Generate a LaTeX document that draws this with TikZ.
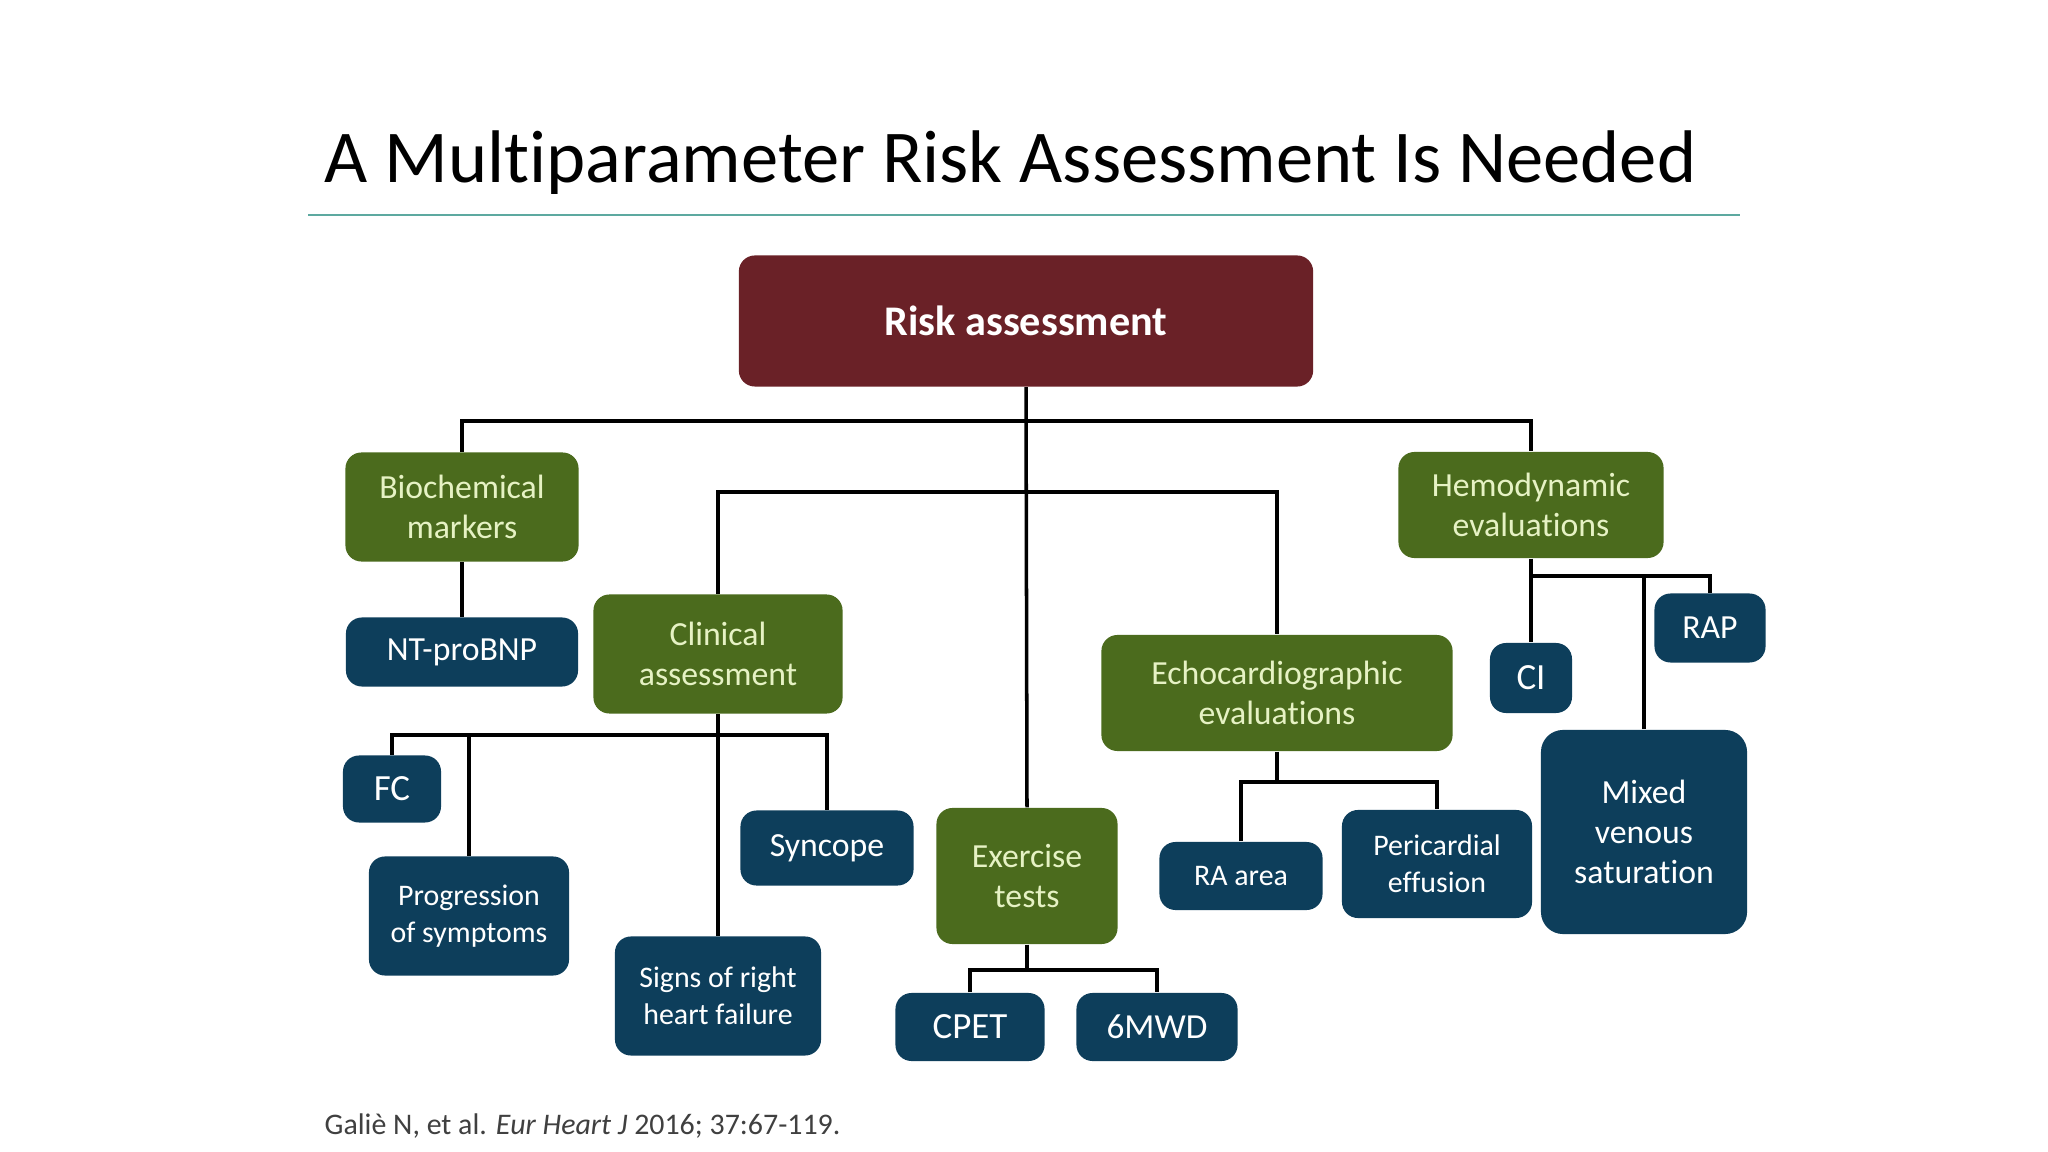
\documentclass[tikz,border=0pt]{standalone}
\usepackage{fontspec}
\setmainfont[Ligatures=NoCommon]{Carlito}
\definecolor{riskred}{HTML}{6A2127}
\definecolor{groupgreen}{HTML}{4B6B1D}
\definecolor{itemblue}{HTML}{0D3E5B}
\definecolor{ruleteal}{HTML}{5DA9A0}
\definecolor{greentext}{HTML}{E6F2C4}
\begin{document}
\begin{tikzpicture}[x=0.01cm,y=-0.01cm,
    box/.style={rounded corners=0.16cm,inner sep=0pt,align=center,
      font=\fontsize{9.6}{11.4}\selectfont},
    smalltext/.style={font=\fontsize{8.5}{10.5}\selectfont},
    bigtext/.style={font=\fontsize{10.5}{12}\selectfont},
    group/.style={box,fill=groupgreen,text=greentext},
    item/.style={box,fill=itemblue,text=white},
    link/.style={line width=1pt,black}]
 \useasboundingbox[fill=white] (0,0) rectangle (2048,1152);
 % title and rule
 \node[anchor=base west,inner sep=0pt,font=\fontsize{21.2}{24}\selectfont] (title) at (324,183) {A Multiparameter Risk Assessment Is Needed};
 \draw[ruleteal,line width=0.8pt] (308,215) -- (1740,215);
 % top node
 \node[box,fill=riskred,text=white,minimum width=5.74cm,minimum height=1.31cm,
   font=\fontsize{12}{14}\bfseries] (risk) at (1026,321) {Risk assessment};
 % groups
 \node[group,minimum width=2.33cm,minimum height=1.09cm] (bio) at (462,507) {Biochemical\\markers};
 \node[group,minimum width=2.49cm,minimum height=1.19cm] (clin) at (718,654) {Clinical\\assessment};
 \node[group,minimum width=1.81cm,minimum height=1.36cm] (exer) at (1027,876) {Exercise\\tests};
 \node[group,minimum width=3.51cm,minimum height=1.16cm] (echo) at (1277,693) {Echocardiographic\\evaluations};
 \node[group,minimum width=2.65cm,minimum height=1.06cm] (hemo) at (1531,505) {Hemodynamic\\evaluations};
 % items
 \node[item,minimum width=2.32cm,minimum height=0.69cm] (nt) at (462,652) {NT-proBNP};
 \node[item,bigtext,minimum width=0.98cm,minimum height=0.67cm] (fc) at (392,789) {FC};
 \node[item,smalltext,minimum width=2.00cm,minimum height=1.19cm] (prog) at (469,916) {Progression\\of symptoms};
 \node[item,smalltext,minimum width=2.06cm,minimum height=1.19cm] (signs) at (718,996) {Signs of right\\heart failure};
 \node[item,minimum width=1.73cm,minimum height=0.75cm] (sync) at (827,848) {Syncope};
 \node[item,bigtext,minimum width=1.49cm,minimum height=0.68cm] (cpet) at (970,1027) {CPET};
 \node[item,minimum width=1.61cm,minimum height=0.68cm,font=\fontsize{10}{12}\selectfont] (mwd) at (1157,1027) {6MWD};
 \node[item,smalltext,minimum width=1.63cm,minimum height=0.68cm] (ra) at (1241,876) {RA area};
 \node[item,smalltext,minimum width=1.90cm,minimum height=1.08cm] (peri) at (1437,864) {Pericardial\\effusion};
 \node[item,bigtext,minimum width=0.82cm,minimum height=0.70cm] (ci) at (1531,678) {CI};
 \node[item,minimum width=1.11cm,minimum height=0.69cm] (rap) at (1710,628) {RAP};
 \node[item,minimum width=2.06cm,minimum height=2.04cm,rounded corners=0.22cm] (mvs) at (1644,832) {Mixed\\venous\\saturation};
 % junctions
 \coordinate (j1) at (1027,421);
 \coordinate (j2) at (1027,492);
 \coordinate (c1) at (718,735);
 \coordinate (e1) at (1027,970);
 \coordinate (e2) at (1277,782);
 \coordinate (h1) at (1531,576);
 % connectors
 \draw[link] (risk.south) -- (exer.north);
 \draw[link] (bio.north) |- (j1) -| (hemo.north);
 \draw[link] (clin.north) |- (j2) -| (echo.north);
 \draw[link] (bio.south) -- (nt.north);
 \draw[link] (clin.south) -- (signs.north);
 \draw[link] (fc.north) |- (c1) -| (sync.north);
 \draw[link] (prog.north) -- (prog.north |- c1);
 \draw[link] (exer.south) -- (e1);
 \draw[link] (cpet.north) |- (e1) -| (mwd.north);
 \draw[link] (echo.south) -- (e2);
 \draw[link] (ra.north) |- (e2) -| (peri.north);
 \draw[link] (hemo.south) -- (ci.north);
 \draw[link] (h1) -| (rap.north);
 \draw[link] (mvs.north) -- (mvs.north |- h1);
 % reference
 \node[anchor=base west,inner sep=0pt,font=\fontsize{8.5}{10}\selectfont,text=black!75] (cite) at (324,1134) {Galiè N, et al. \textit{Eur Heart J} 2016; 37:67-119.};
\end{tikzpicture}
\end{document}
